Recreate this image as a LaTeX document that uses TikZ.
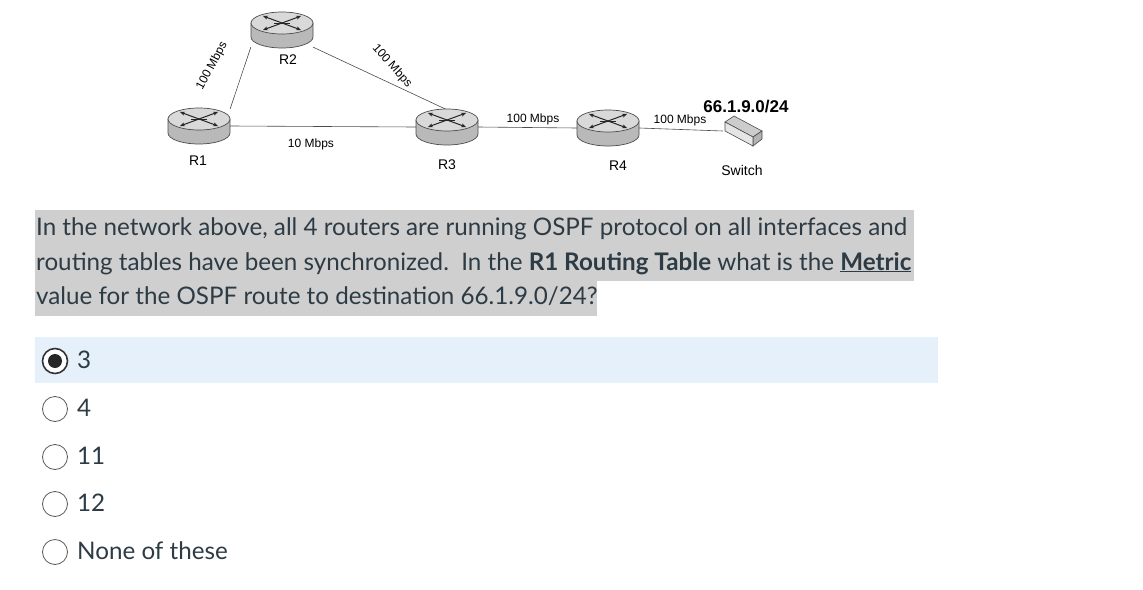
\documentclass[tikz,border=0pt]{standalone}
\usepackage{fontspec}
\setmainfont{Lato}
\newfontfamily\arial{Liberation Sans}
\usetikzlibrary{arrows.meta}
\definecolor{hl}{HTML}{CFCFCF}
\definecolor{sel}{HTML}{E6F0FA}
\definecolor{txt}{HTML}{2D3B45}
\tikzset{
  lbl/.style={font=\arial\fontsize{12}{13}\selectfont, inner sep=1pt},
  rlbl/.style={font=\arial\fontsize{14}{16}\selectfont, inner sep=1pt},
  qtext/.style={font=\fontsize{24.2}{26}\selectfont, text=txt, anchor=base west, inner sep=0pt},
  opt/.style={font=\fontsize{24.2}{26}\selectfont, text=txt, anchor=west, inner sep=0pt},
  radio/.style={circle, draw=gray!70!black, line width=0.8pt, minimum size=25pt, inner sep=0pt, fill=white},
  link/.style={draw=black!70, line width=0.6pt},
  rnode/.style={minimum width=62pt, minimum height=34pt, inner sep=0pt},
  pics/router/.style={code={
    \fill[gray!55,draw=black!70,line width=0.7pt] (-31pt,0pt) -- (-31pt,-14pt) arc[start angle=180,end angle=360,x radius=31pt,y radius=11pt] -- (31pt,0pt) -- cycle;
    \fill[gray!30,draw=black!70,line width=0.7pt] (0pt,0pt) ellipse[x radius=31pt,y radius=11pt];
    \foreach \a in {30,150,210,330}{\draw[black!85,line width=1pt,-{Stealth[length=5pt,width=4pt]}] (0pt,0pt) -- ({22*cos(\a)*1pt},{14*sin(\a)*1pt});}
    \draw[black!85,line width=1pt] (-8pt,0pt) -- (8pt,0pt);
  }}
}
\begin{document}
\begin{tikzpicture}[x=1pt,y=-1pt]
\useasboundingbox (0,0) rectangle (1143,589);
\fill[white] (0,0) rectangle (1143,589);
% routers
\node[rnode] (R1) at (199,126) {};
\node[rnode] (R2) at (282,30) {};
\node[rnode] (R3) at (447,127) {};
\node[rnode] (R4) at (608,128) {};
\node[minimum width=34pt,minimum height=20pt,inner sep=0pt] (SW) at (740,131) {};
\draw[link] (R1.north east) -- (R2.south west);
\draw[link] (R2.south east) -- (R3.north);
\draw[link] (R1.east) -- (R3.west);
\draw[link] (R3.east) -- (R4.west);
\draw[link] (R4.east) -- (SW.west);
\pic at (199,119) {router};
\pic at (282,23) {router};
\pic at (447,120) {router};
\pic at (608,121) {router};
% switch
\fill[gray!40,draw=black!70,line width=0.6pt] (725,122) -- (734,116) -- (762,131) -- (753,137) -- cycle;
\fill[gray!60,draw=black!70,line width=0.6pt] (753,137) -- (762,131) -- (762,139) -- (753,146) -- cycle;
\fill[gray!20,draw=black!70,line width=0.6pt] (725,122) -- (753,137) -- (753,146) -- (725,131) -- cycle;
\node[rlbl] (lR1) at (198,161) {R1};
\node[rlbl] (lR2) at (288,60) {R2};
\node[rlbl] (lR3) at (447,165) {R3};
\node[rlbl] (lR4) at (618,166) {R4};
\node[rlbl] (lSW) at (742,170) {Switch};
\node[lbl,font=\arial\bfseries\fontsize{17}{19}\selectfont] (net) at (746,107) {66.1.9.0/24};
\node[lbl,rotate=62] (b12) at (212,66) {100 Mbps};
\node[lbl,rotate=-48] (b23) at (392,66) {100 Mbps};
\node[lbl] (b13) at (311,144) {10 Mbps};
\node[lbl] (b34) at (533,119) {100 Mbps};
\node[lbl] (b4s) at (680,120) {100 Mbps};
% question
\fill[hl] (35,210) rectangle (914,281);
\fill[hl] (35,281) rectangle (597,316);
\node[qtext] (q1) at (36,235) {In the network above, all 4 routers are running OSPF protocol on all interfaces and};
\node[qtext] (q2) at (36,270) {routing tables have been synchronized.\ \ In the \textbf{R1 Routing Table} what is the \textbf{\underline{Metric}}};
\node[qtext] (q3) at (36,304) {value for the OSPF route to destination 66.1.9.0/24?};
% options
\fill[sel] (35,337) rectangle (938,383);
\node[radio,line width=1.6pt,draw=black!80] (c1) at (55,361) {};
\fill[black!85] (c1) circle (7);
\node[radio] (c2) at (55,409) {};
\node[radio] (c3) at (55,457) {};
\node[radio] (c4) at (55,504) {};
\node[radio] (c5) at (55,552) {};
\node[opt] (o1) at (77,360) {3};
\node[opt] (o2) at (77,408) {4};
\node[opt] (o3) at (77,456) {11};
\node[opt] (o4) at (77,503) {12};
\node[opt] (o5) at (77,551) {None of these};
\end{tikzpicture}
\end{document}
